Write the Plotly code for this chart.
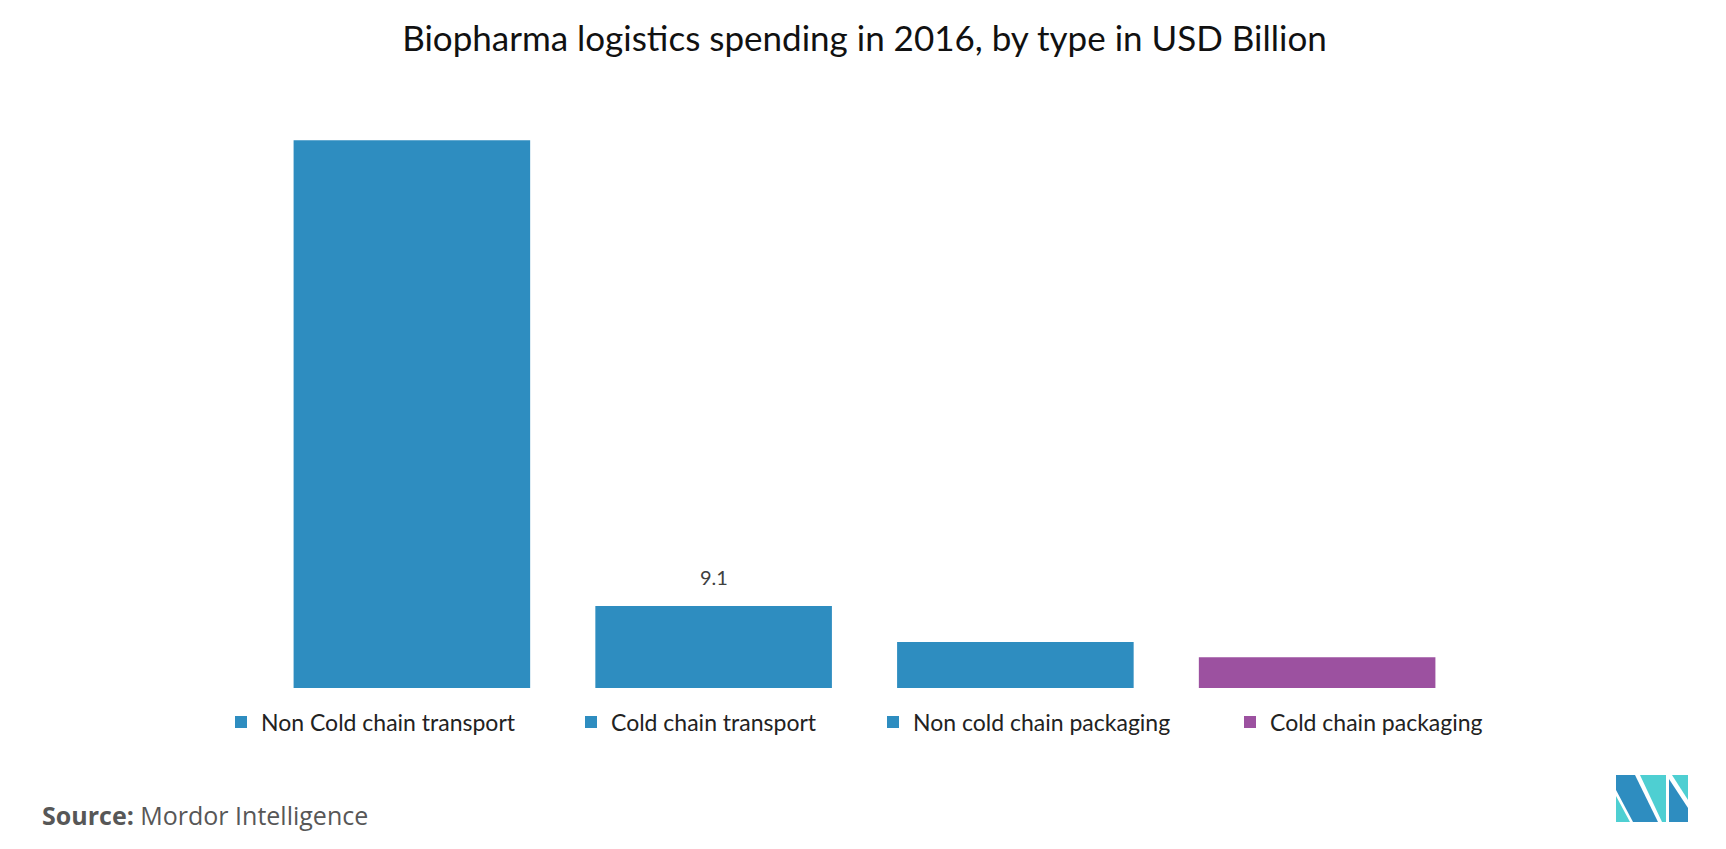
import plotly.graph_objects as go

categories = ["Non Cold chain transport", "Cold chain transport",
              "Non cold chain packaging", "Cold chain packaging"]
values = [60.8, 9.1, 5.1, 3.4]
colors = ["#2E8DC0", "#2E8DC0", "#2E8DC0", "#9C51A0"]
labeled = [False, True, False, False]
legend_left_px = [235, 585, 887, 1244]

W, H = 1726, 849
OFF = 8  # page body margin
# plot area in figure coords: x 253..1460, y 92..680
ML = 253
MR = W - 1460
MT = 92
MB = H - 680
PW, PH = W - ML - MR, H - MT - MB

def px(x):  # screen px -> paper
    return (x - OFF - ML) / PW

def py(y):
    return (H - MB - (y - OFF)) / PH

fig = go.Figure()
for i, (cat, val, col) in enumerate(zip(categories, values, colors)):
    lname = "legend" if i == 0 else f"legend{i + 1}"
    fig.add_trace(go.Bar(x=[cat], y=[val], name=cat, marker_color=col,
                         marker_line_width=0, hoverinfo="x+y", legend=lname))

for cat, val, lab in zip(categories, values, labeled):
    if lab:
        fig.add_annotation(x=cat, y=val, text=f"{val:g}", showarrow=False,
                           yanchor="bottom", yshift=15,
                           font=dict(family="Lato", size=20, color="#404040"))

fig.add_annotation(xref="paper", yref="paper", x=px(40), y=py(815),
                   xanchor="left", yanchor="middle", showarrow=False,
                   text="<b>Source:</b> Mordor Intelligence",
                   font=dict(family="Open Sans", size=25, color="#575757"))

# logo
def path(pts):
    return "M" + " L".join(f"{px(a)},{py(b)}" for a, b in pts) + " Z"

logo = [
    ([(1616, 775), (1635, 775), (1658, 822), (1633, 822), (1616, 790)], "#2E8DC0"),
    ([(1616, 796), (1616, 822), (1630, 822)], "#4ECFD2"),
    ([(1640, 775), (1666, 775), (1666, 822), (1662, 822)], "#4ECFD2"),
    ([(1669, 779), (1688, 808), (1688, 822), (1669, 822)], "#2E8DC0"),
    ([(1672, 775), (1688, 775), (1688, 800)], "#4ECFD2"),
]
for pts, col in logo:
    fig.add_shape(type="path", xref="paper", yref="paper", path=path(pts),
                  fillcolor=col, line_width=0, layer="above")

legend_font = dict(family="Lato", size=23, color="#222222")
legends = {}
for i, lx in enumerate(legend_left_px):
    key = "legend" if i == 0 else f"legend{i + 1}"
    legends[key] = dict(orientation="h", x=px(lx - 14), xanchor="left",
                        y=py(722), yanchor="middle", font=legend_font,
                        bgcolor="rgba(0,0,0,0)")

fig.update_layout(
    width=W, height=H,
    margin=dict(l=ML, r=MR, t=MT, b=MB, autoexpand=False),
    paper_bgcolor="white", plot_bgcolor="white",
    title=dict(text="Biopharma logistics spending in 2016, by type in USD Billion",
               x=0.5, xref="paper", xanchor="center", y=1 - (38.5 - OFF) / H,
               yanchor="middle",
               font=dict(family="Lato", size=35, color="#111111")),
    barmode="overlay", bargap=0.216,
    showlegend=True,
    xaxis=dict(showticklabels=False, showgrid=False, zeroline=False, showline=False,
               ticks=""),
    yaxis=dict(range=[0, PH / (82 / 9.1)], showticklabels=False, showgrid=False,
               zeroline=False, showline=False, ticks=""),
    **legends,
)

fig.write_html("out.html")
